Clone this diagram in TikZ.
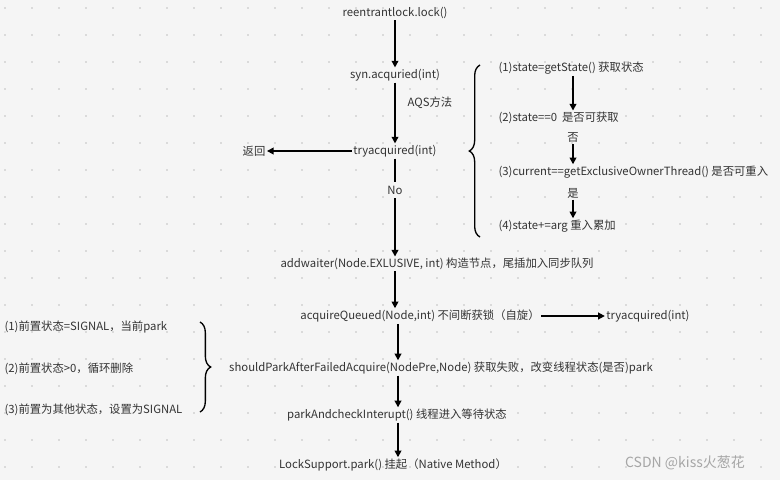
\documentclass[tikz,border=0pt]{standalone}
\usepackage{fontspec}
\setmainfont{Noto Sans CJK SC}
\usetikzlibrary{decorations.pathreplacing,arrows.meta}
\begin{document}
\begin{tikzpicture}[x=0.75pt,y=-0.75pt,
  t/.style={inner sep=1pt,font=\fontsize{8.5}{10}\selectfont,text=black!80},
  tl/.style={t,anchor=west},
  ar/.style={-{Triangle[length=5pt,width=5pt]},line width=1.2pt},
  br/.style={decorate,decoration={brace,amplitude=8pt},line width=1pt}]
\fill[gray!8] (0,0) rectangle (780,480);
\foreach \x in {5,32,...,780}{\foreach \y in {8,35,...,480}{\fill[gray!50] (\x,\y) circle (0.65pt);}}
\node[t] (a) at (395,13) {reentrantlock.lock()};
\node[t] (b) at (395,75) {syn.acquried(int)};
\node[t] (aqs) at (430,103) {AQS方法};
\node[t] (c) at (395,151) {tryacquired(int)};
\node[t] (ret) at (254,151) {返回};
\node[t] (no) at (395,190) {No};
\node[t] (d) at (437,264) {addwaiter(Node.EXLUSIVE, int)\ 构造节点，尾插加入同步队列};
\node[t] (e) at (420,316) {acquireQueued(Node,int) 不间断获锁（自旋）};
\node[t] (e2) at (648,316) {tryacquired(int)};
\node[t] (f) at (441,368) {shouldParkAfterFailedAcquire(NodePre,Node) 获取失败，改变线程状态(是否)park};
\node[t] (g) at (397,415) {parkAndcheckInterupt()\ 线程进入等待状态};
\node[t] (h) at (393,465) {LockSupport.park()\ 挂起（Native Method）};
\node[tl] (r1) at (497,68) {(1)state=getState() 获取状态};
\node[tl] (r2) at (497,118) {(2)state==0\ \ 是否可获取};
\node[t] (fou) at (573,138) {否};
\node[tl] (r3) at (497,172) {(3)current==getExclusiveOwnerThread() 是否可重入};
\node[t] (shi) at (573,193) {是};
\node[tl] (r4) at (497,226) {(4)state+=arg 重入累加};
\node[tl] (l1) at (3,327) {(1)前置状态=SIGNAL，当前park};
\node[tl] (l2) at (3,369) {(2)前置状态>0，循环删除};
\node[tl] (l3) at (3,410) {(3)前置为其他状态，设置为SIGNAL};
\node[t,text=gray!70,font=\fontsize{10.5}{12}\selectfont] (wm) at (685,463) {CSDN @kiss火葱花};
\coordinate (k1) at (395,182);
\coordinate (k2) at (395,198);
\draw[ar] (a) -- (b);
\draw[ar] (b) -- (c);
\draw[ar] (c) -- (ret);
\draw[line width=1.2pt] (c) -- (k1);
\draw[ar] (k2) -- (d.north -| k2);
\draw[ar] (d.south -| k2) -- (e.north -| k2);
\draw[ar] (e) -- (e2);
\coordinate (m) at (398,0);
\draw[ar] (e.south -| m) -- (f.north -| m);
\draw[ar] (f.south -| m) -- (g.north -| m);
\draw[ar] (g.south -| m) -- (h.north -| m);
\coordinate (q) at (573,0);
\draw[ar] (r1.south -| q) -- (r2.north -| q);
\draw[ar] (fou) -- (r3.north -| q);
\draw[ar] (shi) -- (r4.north -| q);
\draw[br] (200,322) -- (200,412);
\draw[br] (480,237) -- (480,65);
\end{tikzpicture}
\end{document}
